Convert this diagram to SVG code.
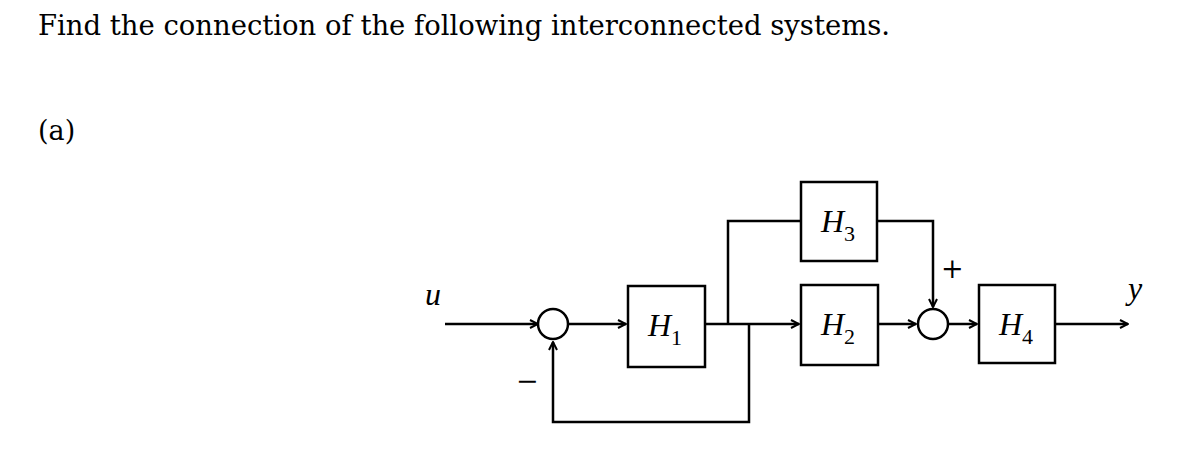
<svg xmlns="http://www.w3.org/2000/svg" width="1204" height="458" viewBox="0 0 1204 458">
<style>
.t{font-family:"DejaVu Serif","Liberation Serif",serif;font-size:27px;fill:#000}
.m{font-family:"Liberation Serif","DejaVu Serif",serif;font-style:italic;font-size:32px;fill:#000}
.s{font-family:"Liberation Serif","DejaVu Serif",serif;font-size:22px;fill:#000}
.b{fill:#fff;stroke:#000;stroke-width:2.5}
.l{fill:none;stroke:#000;stroke-width:2.5}
.a{fill:none;stroke:#000;stroke-width:2.5;marker-end:url(#ar)}
</style>
<defs><marker id="ar" markerWidth="10" markerHeight="10" refX="9" refY="5" orient="auto" markerUnits="userSpaceOnUse"><path d="M1,1 L9,5 L1,9" fill="none" stroke="#000" stroke-width="2"/></marker></defs>
<rect width="1204" height="458" fill="#fff"/>
<text class="t" x="38" y="35" textLength="852" lengthAdjust="spacingAndGlyphs">Find the connection of the following interconnected systems.</text>
<text class="t" x="38" y="140" font-size="32">(a)</text>
<g id="connectors">
<line class="a" x1="445" y1="324" x2="538" y2="324"/>
<line class="a" x1="567" y1="324" x2="626" y2="324"/>
<line class="a" x1="705" y1="324" x2="799" y2="324"/>
<polyline class="l" points="728,324 728,221 801,221"/>
<polyline class="a" points="877,221 933,221 933,307"/>
<polyline class="a" points="749,324 749,422 553,422 553,342"/>
<line class="a" x1="878" y1="324" x2="916" y2="324"/>
<line class="a" x1="948" y1="324" x2="977" y2="324"/>
<line class="a" x1="1055" y1="324" x2="1128" y2="324"/>
</g>
<g id="sum1"><circle class="b" cx="553" cy="324" r="15"/></g>
<g id="sum2"><circle class="b" cx="933" cy="324" r="15"/></g>
<g id="H1"><rect class="b" x="628" y="286" width="77" height="81"/><text class="m" x="648" y="336">H</text><text class="s" x="671" y="345">1</text></g>
<g id="H2"><rect class="b" x="801" y="285" width="77" height="80"/><text class="m" x="821" y="335">H</text><text class="s" x="844" y="344">2</text></g>
<g id="H3"><rect class="b" x="801" y="182" width="76" height="79"/><text class="m" x="821" y="232">H</text><text class="s" x="844" y="241">3</text></g>
<g id="H4"><rect class="b" x="979" y="285" width="76" height="78"/><text class="m" x="999" y="335">H</text><text class="s" x="1022" y="344">4</text></g>
<text class="m" x="425" y="305">u</text>
<text class="m" x="1128" y="299">y</text>
<text class="t" x="941" y="278" font-size="30">+</text>
<text class="t" x="516" y="390" font-size="30">−</text>
</svg>
